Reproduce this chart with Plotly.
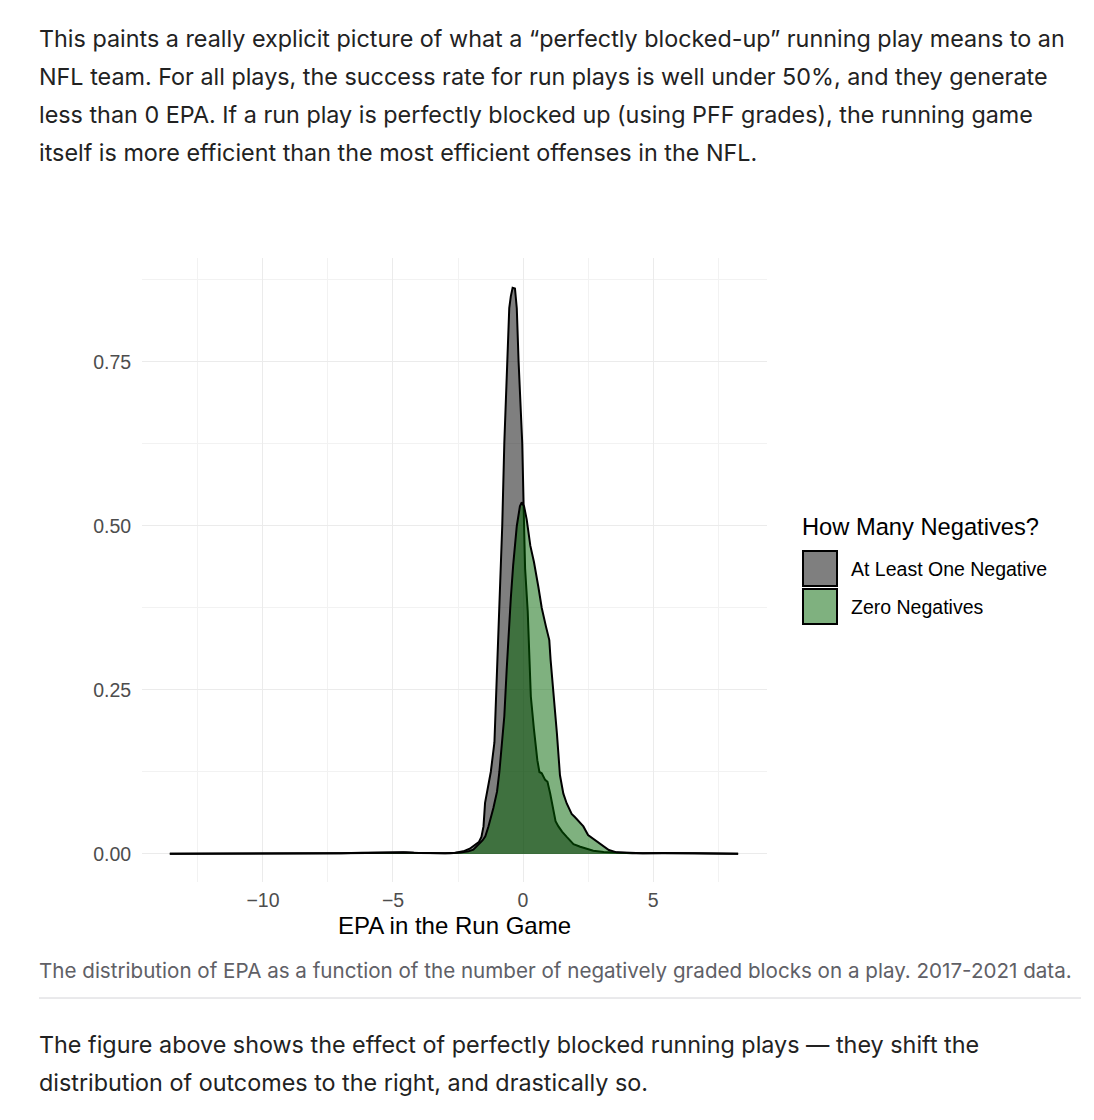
import plotly.graph_objects as go

W, H = 1094, 1120

# density of EPA
epa_neg = [-13.58, -12.0, -10.0, -8.0, -7.0, -6.2, -5.6, -5.2, -4.86, -4.6, -4.2, -3.6, -3.0,
           -2.6, -2.3, -2.05, -1.85, -1.7, -1.6, -1.52, -1.46, -1.35, -1.24, -1.1, -1.03,
           -0.92, -0.86, -0.80, -0.72, -0.59, -0.53, -0.47, -0.40, -0.31, -0.24, -0.17,
           -0.03, 0.04, 0.08, 0.18, 0.30, 0.42, 0.55, 0.63, 0.72, 0.85, 0.94, 1.04, 1.15,
           1.25, 1.36, 1.50, 1.68, 1.94, 2.2, 2.45, 2.7, 3.1, 3.6, 4.2, 5.0, 5.8, 6.6, 7.4, 8.27]
dens_neg = [0.0004, 0.0004, 0.0005, 0.0008, 0.0012, 0.0018, 0.0024, 0.0030, 0.0035, 0.0028,
            0.0020, 0.0014, 0.0012, 0.0020, 0.0040, 0.0080, 0.0130, 0.0180, 0.0260, 0.0420,
            0.0780, 0.1000, 0.1250, 0.1700, 0.2500, 0.3750, 0.4480, 0.5000, 0.6260, 0.7500,
            0.8320, 0.8500, 0.8630, 0.8620, 0.8320, 0.7500, 0.6260, 0.5000, 0.4350, 0.3700,
            0.2400, 0.1900, 0.1430, 0.1250, 0.1230, 0.1130, 0.1100, 0.0930, 0.0680, 0.0500,
            0.0420, 0.0340, 0.0260, 0.0150, 0.0110, 0.0080, 0.0050, 0.0030, 0.0018, 0.0012,
            0.0010, 0.0014, 0.0010, 0.0007, 0.0004]

epa_zero = [-13.58, -12.0, -10.0, -8.0, -7.0, -6.0, -5.3, -4.9, -4.5, -4.0, -3.4, -2.8,
            -2.4, -2.1, -1.91, -1.72, -1.55, -1.45, -1.33, -1.14, -1.0, -0.91, -0.82, -0.72,
            -0.63, -0.55, -0.47, -0.38, -0.24, -0.12, -0.05, 0.04, 0.14, 0.28, 0.42, 0.59,
            0.72, 0.88, 1.01, 1.06, 1.17, 1.30, 1.42, 1.55, 1.68, 1.87, 2.0, 2.32, 2.5, 2.96,
            3.3, 3.6, 4.0, 4.6, 5.4, 6.2, 7.0, 7.8, 8.27]
dens_zero = [0.0003, 0.0003, 0.0004, 0.0007, 0.0010, 0.0016, 0.0022, 0.0028, 0.0022, 0.0015,
             0.0011, 0.0012, 0.0022, 0.0040, 0.0065, 0.0140, 0.0210, 0.0270, 0.0420, 0.0700,
             0.0950, 0.1250, 0.1600, 0.2100, 0.2800, 0.3400, 0.3900, 0.4400, 0.5000, 0.5300,
             0.5360, 0.5300, 0.5100, 0.4700, 0.4450, 0.4070, 0.3750, 0.3470, 0.3260, 0.2960,
             0.2500, 0.1850, 0.1200, 0.0920, 0.0770, 0.0610, 0.0560, 0.0420, 0.0290, 0.0150,
             0.0060, 0.0025, 0.0016, 0.0013, 0.0016, 0.0012, 0.0009, 0.0006, 0.0003]

x_ticks = [-10, -5, 0, 5]
x_labels = ["\u221210", "\u22125", "0", "5"]

legend_title = "How Many Negatives?"
groups = ["At Least One Negative", "Zero Negatives"]
fills = ["rgba(0,0,0,0.5)", "rgba(0,100,0,0.5)"]

para_top = [
    "This paints a really explicit picture of what a \u201cperfectly blocked-up\u201d running play means to an",
    "NFL team. For all plays, the success rate for run plays is well under 50%, and they generate",
    "less than 0 EPA. If a run play is perfectly blocked up (using PFF grades), the running game",
    "itself is more efficient than the most efficient offenses in the NFL.",
]
caption = ("The distribution of EPA as a function of the number of negatively graded blocks "
           "on a play. 2017-2021 data.")
para_bottom = [
    "The figure above shows the effect of perfectly blocked running plays \u2014 they shift the",
    "distribution of outcomes to the right, and drastically so.",
]

CHART_FONT = "Liberation Sans, Arial, sans-serif"
TEXT_FONT = "Inter, Liberation Sans, sans-serif"


def px(x):
    return x / W


def py(y):
    return 1 - y / H


def note(x, y, text, size, color, family):
    return dict(x=px(x), y=py(y), xref="paper", yref="paper", text=text, showarrow=False,
                xanchor="left", yanchor="middle",
                font=dict(family=family, size=size, color=color))


fig = go.Figure()
for xs, ys, name, fc in [(epa_neg, dens_neg, groups[0], fills[0]),
                         (epa_zero, dens_zero, groups[1], fills[1])]:
    fig.add_trace(go.Scatter(
        x=xs, y=ys, name=name, mode="lines", fill="tozeroy", fillcolor=fc,
        line=dict(color="black", width=2),
        showlegend=False, hoverinfo="skip",
    ))

annotations = []
for i, line in enumerate(para_top):
    annotations.append(note(37, 39 + 38 * i, line, 23.35, "#222222", TEXT_FONT))
annotations.append(note(37, 970, caption, 20.6, "#606066", TEXT_FONT))
for i, line in enumerate(para_bottom):
    annotations.append(note(37, 1044 + 38 * i, line, 23.35, "#222222", TEXT_FONT))

# hand-made legend (ggplot style square keys)
annotations.append(note(800, 527, legend_title, 23.7, "black", CHART_FONT))
shapes = []
for i, (name, fc) in enumerate(zip(groups, fills)):
    top = 551 + 38 * i
    shapes.append(dict(type="rect", xref="paper", yref="paper",
                       x0=px(803), x1=px(837), y0=py(top), y1=py(top + 35),
                       fillcolor=fc, line=dict(color="black", width=2)))
    annotations.append(note(849, top + 18, name, 19.5, "black", CHART_FONT))

shapes.append(dict(type="line", xref="paper", yref="paper",
                   x0=px(39), x1=px(1081), y0=py(998), y1=py(998),
                   line=dict(color="#d4d4d8", width=1)))

fig.update_layout(
    width=W, height=H,
    margin=dict(l=0, r=0, t=0, b=0),
    paper_bgcolor="white", plot_bgcolor="white",
    annotations=annotations, shapes=shapes,
    xaxis=dict(
        domain=[px(142), px(767)], range=[-14.65, 9.38],
        tickmode="array", tickvals=x_ticks, ticktext=x_labels,
        showgrid=True, gridcolor="#ebebeb", gridwidth=1.3, zeroline=False,
        minor=dict(dtick=2.5, tick0=0, showgrid=True, gridcolor="#f2f2f2", gridwidth=0.8),
        ticks="outside", ticklen=1, tickcolor="rgba(0,0,0,0)",
        tickfont=dict(family=CHART_FONT, size=19.5, color="#4d4d4d"),
        title=dict(text="EPA in the Run Game", standoff=6,
                   font=dict(family=CHART_FONT, size=24, color="black")),
        showline=False,
    ),
    yaxis=dict(
        domain=[py(882), py(258)], range=[-0.0427, 0.9085],
        dtick=0.25, tick0=0, tickformat=".2f",
        showgrid=True, gridcolor="#ebebeb", gridwidth=1.3, zeroline=False,
        minor=dict(dtick=0.125, tick0=0, showgrid=True, gridcolor="#f2f2f2", gridwidth=0.8),
        ticks="outside", ticklen=6, tickcolor="rgba(0,0,0,0)",
        tickfont=dict(family=CHART_FONT, size=19.5, color="#4d4d4d"),
        showline=False,
    ),
)

# page has a default 8px body margin; drop it so pixel positions line up
fig.write_html("out.html", config={"displayModeBar": False},
               post_script="document.body.style.margin='0px';")
